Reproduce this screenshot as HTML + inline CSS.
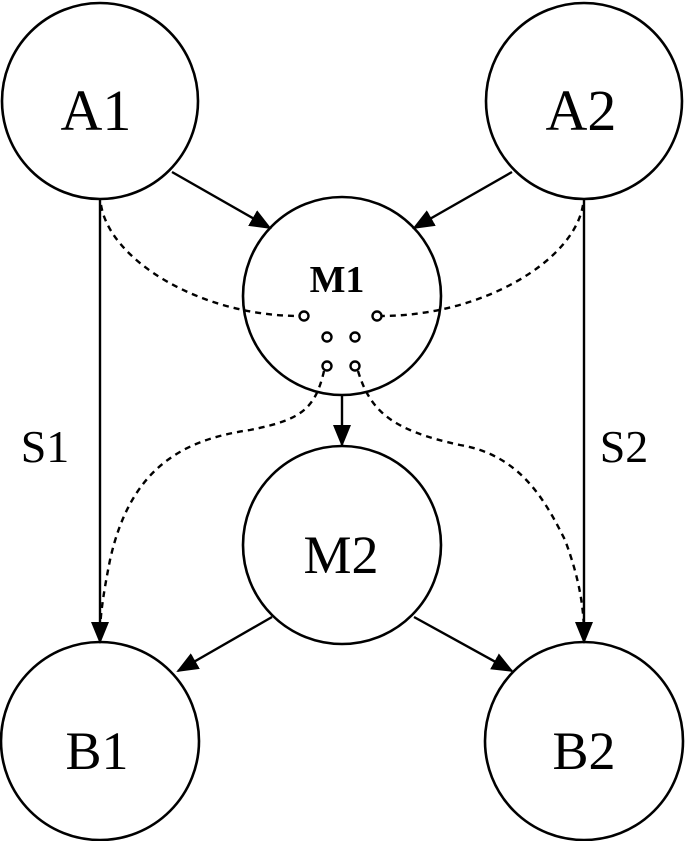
<!DOCTYPE html>
<html><head><meta charset="utf-8"><style>html,body{margin:0;padding:0;background:#fff}</style></head>
<body>
<svg width="685" height="841" viewBox="0 0 685 841" xmlns="http://www.w3.org/2000/svg">
<defs>
<marker id="ar2" markerWidth="22" markerHeight="18" refX="20" refY="9" orient="auto" markerUnits="userSpaceOnUse" viewBox="0 0 22 18">
<path d="M0,0 L22,9 L0,18 z" fill="#000"/>
</marker>
</defs>
<g fill="none" stroke="#000" stroke-width="2.6">
<circle cx="100" cy="101" r="98"/>
<circle cx="584" cy="101" r="98"/>
<circle cx="342" cy="296" r="99"/>
<circle cx="342" cy="545" r="99"/>
<circle cx="100" cy="741" r="99"/>
<circle cx="584" cy="741" r="99"/>
</g>
<g stroke="#000" stroke-width="2.4" fill="none">
<line x1="172" y1="172" x2="270" y2="228" marker-end="url(#ar2)"/>
<line x1="512" y1="172" x2="414" y2="228" marker-end="url(#ar2)"/>
<line x1="342" y1="395" x2="342" y2="445" marker-end="url(#ar2)"/>
<line x1="272" y1="617" x2="178" y2="671" marker-end="url(#ar2)"/>
<line x1="414" y1="617" x2="512" y2="671" marker-end="url(#ar2)"/>
<line x1="100" y1="200" x2="100" y2="642" marker-end="url(#ar2)"/>
<line x1="584" y1="200" x2="584" y2="642" marker-end="url(#ar2)"/>
</g>
<g stroke="#000" stroke-width="2.4" fill="none" stroke-dasharray="6,5">
<path d="M101,205 C110,260 200,316 300,316"/>
<path d="M583,205 C574,260 484,316 380,316"/>
<path d="M324,371 C315,410 300,420 250,430 C180,440 130,470 110,560 C102,600 100,620 100,635"/>
<path d="M358,371 C370,410 390,430 460,445 C520,455 545,500 565,540 C580,580 584,610 584,635"/>
</g>
<g stroke="#000" stroke-width="2.4" fill="#fff">
<circle cx="304" cy="316" r="4.5"/>
<circle cx="377" cy="316" r="4.5"/>
<circle cx="327" cy="337" r="4.5"/>
<circle cx="355" cy="337" r="4.5"/>
<circle cx="327" cy="366" r="4.5"/>
<circle cx="355" cy="366" r="4.5"/>
</g>
<g font-family="Liberation Serif, serif" fill="#000" text-anchor="middle">
<text x="96" y="130" font-size="58">A1</text>
<text x="581" y="130" font-size="58">A2</text>
<text x="337" y="292" font-size="38" font-weight="bold">M1</text>
<text x="341" y="573" font-size="54">M2</text>
<text x="97" y="769" font-size="54">B1</text>
<text x="584" y="769" font-size="54">B2</text>
<text x="45" y="462" font-size="46">S1</text>
<text x="624" y="462" font-size="46">S2</text>
</g>
</svg>
</body></html>
